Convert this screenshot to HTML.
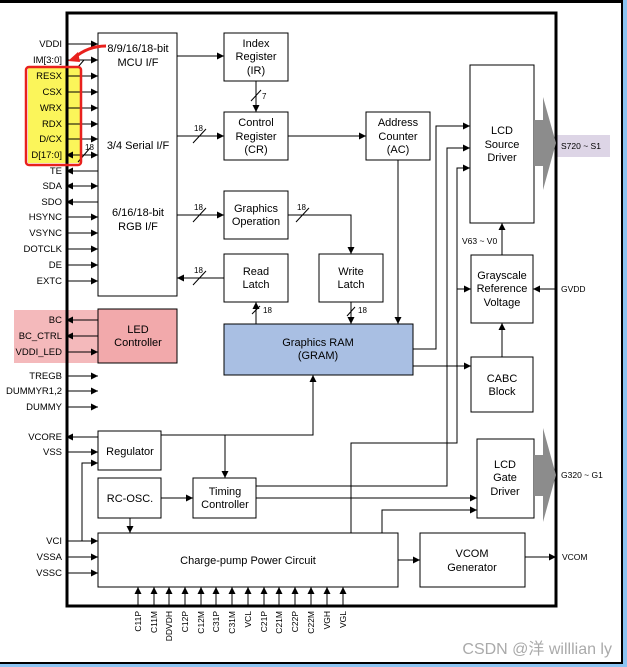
<!DOCTYPE html>
<html><head><meta charset="utf-8"><style>
html,body{margin:0;padding:0;background:#fff;}
svg{display:block;font-family:"Liberation Sans",Arial,sans-serif;}
</style></head><body>
<svg width="627" height="667" viewBox="0 0 627 667" xmlns="http://www.w3.org/2000/svg">
<defs>
<marker id="a" viewBox="0 0 10 10" refX="10" refY="5" markerWidth="7" markerHeight="7" orient="auto" markerUnits="userSpaceOnUse"><path d="M0,0L10,5L0,10z" fill="#000"/></marker>
<marker id="s" viewBox="0 0 10 10" refX="0" refY="5" markerWidth="7" markerHeight="7" orient="auto" markerUnits="userSpaceOnUse"><path d="M10,0L0,5L10,10z" fill="#000"/></marker>
</defs>
<rect x="0" y="0" width="627" height="667" fill="#fff"/>
<rect x="0" y="0" width="627" height="3" fill="#000"/>
<rect x="621" y="0" width="2" height="664" fill="#000"/>
<rect x="623" y="0" width="4" height="667" fill="#8cc4f2"/>
<rect x="0" y="662" width="623" height="2" fill="#000"/>
<rect x="0" y="664" width="627" height="3" fill="#8cc4f2"/>

<!-- highlight backgrounds -->
<rect x="28" y="68" width="52" height="95" fill="#fbf55a"/>
<rect x="14" y="310" width="84" height="53" fill="#f4b9bb"/>
<rect x="556" y="135" width="54" height="22" fill="#ddd5e6"/>

<!-- chip border -->
<rect x="67" y="13" width="489" height="593" fill="none" stroke="#000" stroke-width="3"/>

<g fill="none" stroke="#000" stroke-width="1">
<!-- boxes -->
<rect x="98" y="33" width="79" height="263" fill="#fff"/>
<rect x="224" y="33" width="64" height="48"/>
<rect x="224" y="112" width="64" height="48"/>
<rect x="366" y="112" width="64" height="48"/>
<rect x="224" y="191" width="64" height="48"/>
<rect x="224" y="254" width="64" height="48"/>
<rect x="319" y="254" width="64" height="48"/>
<rect x="224" y="324" width="189" height="51" fill="#a9bfe3"/>
<rect x="470" y="65" width="64" height="158"/>
<rect x="471" y="255" width="62" height="68"/>
<rect x="471" y="357" width="62" height="55"/>
<rect x="477" y="439" width="57" height="79"/>
<rect x="420" y="533" width="105" height="54"/>
<rect x="98" y="533" width="300" height="54"/>
<rect x="98" y="431" width="63" height="39"/>
<rect x="98" y="478" width="63" height="40"/>
<rect x="193" y="478" width="63" height="40"/>
<rect x="98" y="309" width="79" height="54" fill="#f2a9ab"/>
</g>
<!-- big arrows -->
<path d="M534,120 L543,120 L543,97 L556,143 L543,190 L543,166 L534,166 z" fill="#8c8c8c"/>
<path d="M534,455 L543,455 L543,428 L556,475 L543,522 L543,496 L534,496 z" fill="#8c8c8c"/>

<g stroke="#000" stroke-width="1" fill="none">
<!-- left pins to MCU -->
<line x1="66" y1="44" x2="98" y2="44" marker-end="url(#a)"/>
<line x1="66" y1="60" x2="98" y2="60" marker-end="url(#a)"/>
<line x1="66" y1="76" x2="98" y2="76" marker-end="url(#a)"/>
<line x1="66" y1="92" x2="98" y2="92" marker-end="url(#a)"/>
<line x1="66" y1="108" x2="98" y2="108" marker-end="url(#a)"/>
<line x1="66" y1="124" x2="98" y2="124" marker-end="url(#a)"/>
<line x1="66" y1="139" x2="98" y2="139" marker-end="url(#a)"/>
<line x1="66" y1="155" x2="98" y2="155" marker-end="url(#a)" marker-start="url(#s)"/>
<line x1="66" y1="171" x2="98" y2="171" marker-start="url(#s)"/>
<line x1="66" y1="186" x2="98" y2="186" marker-end="url(#a)" marker-start="url(#s)"/>
<line x1="66" y1="202" x2="98" y2="202" marker-start="url(#s)"/>
<line x1="66" y1="217" x2="98" y2="217" marker-end="url(#a)"/>
<line x1="66" y1="233" x2="98" y2="233" marker-end="url(#a)"/>
<line x1="66" y1="249" x2="98" y2="249" marker-end="url(#a)"/>
<line x1="66" y1="265" x2="98" y2="265" marker-end="url(#a)"/>
<line x1="66" y1="281" x2="98" y2="281" marker-end="url(#a)"/>
<line x1="78" y1="162" x2="90" y2="148"/>
<line x1="78" y1="67" x2="84" y2="60"/>
<line x1="66" y1="320" x2="98" y2="320" marker-start="url(#s)"/>
<line x1="66" y1="336" x2="98" y2="336" marker-start="url(#s)"/>
<line x1="66" y1="352" x2="98" y2="352" marker-end="url(#a)"/>
<line x1="66" y1="376" x2="98" y2="376" marker-end="url(#a)"/>
<line x1="66" y1="391" x2="98" y2="391" marker-end="url(#a)"/>
<line x1="66" y1="407" x2="98" y2="407" marker-end="url(#a)"/>
<line x1="66" y1="437" x2="98" y2="437" marker-start="url(#s)"/>
<line x1="66" y1="452" x2="98" y2="452" marker-end="url(#a)"/>
<polyline points="82,541 82,463 98,463" marker-end="url(#a)"/>
<line x1="66" y1="541" x2="98" y2="541" marker-end="url(#a)"/>
<line x1="66" y1="557" x2="98" y2="557" marker-end="url(#a)"/>
<line x1="66" y1="573" x2="98" y2="573" marker-end="url(#a)"/>

<!-- internal -->
<line x1="177" y1="56" x2="224" y2="56" marker-end="url(#a)"/>
<line x1="256" y1="81" x2="256" y2="112" marker-end="url(#a)"/>
<line x1="251" y1="101" x2="261" y2="90"/>
<line x1="177" y1="136" x2="224" y2="136" marker-end="url(#a)"/>
<line x1="193" y1="143" x2="206" y2="129"/>
<line x1="288" y1="136" x2="366" y2="136" marker-end="url(#a)"/>
<line x1="398" y1="160" x2="398" y2="324" marker-end="url(#a)"/>
<line x1="177" y1="215" x2="224" y2="215" marker-end="url(#a)"/>
<line x1="193" y1="222" x2="206" y2="208"/>
<polyline points="288,215 351,215 351,254" marker-end="url(#a)"/>
<line x1="296" y1="222" x2="309" y2="208"/>
<line x1="224" y1="278" x2="177" y2="278" marker-end="url(#a)"/>
<line x1="193" y1="285" x2="206" y2="271"/>
<line x1="256" y1="324" x2="256" y2="302" marker-end="url(#a)"/>
<line x1="252" y1="314" x2="260" y2="306"/>
<line x1="351" y1="302" x2="351" y2="324" marker-end="url(#a)"/>
<line x1="347" y1="316" x2="355" y2="307"/>
<line x1="413" y1="366" x2="471" y2="366" marker-end="url(#a)"/>
<line x1="502" y1="357" x2="502" y2="323" marker-end="url(#a)"/>
<line x1="502" y1="255" x2="502" y2="223" marker-end="url(#a)"/>
<line x1="556" y1="289" x2="533" y2="289" marker-end="url(#a)"/>
<polyline points="413,349 436,349 436,126 470,126" marker-end="url(#a)"/>
<polyline points="256,486 447,486 447,148 470,148" marker-end="url(#a)"/>
<polyline points="351,533 351,443 457,443 457,168 470,168" marker-end="url(#a)"/>
<line x1="457" y1="289" x2="471" y2="289" marker-end="url(#a)"/>
<polyline points="256,498 477,498" marker-end="url(#a)"/>
<polyline points="382,533 382,510 477,510" marker-end="url(#a)"/>
<line x1="398" y1="560" x2="420" y2="560" marker-end="url(#a)"/>
<line x1="525" y1="557" x2="556" y2="557" marker-end="url(#a)"/>
<polyline points="161,435 313,435 313,375" marker-end="url(#a)"/>
<line x1="225" y1="435" x2="225" y2="478" marker-end="url(#a)"/>
<line x1="161" y1="498" x2="193" y2="498" marker-end="url(#a)"/>
<line x1="130" y1="518" x2="130" y2="533" marker-end="url(#a)"/>
<!-- bottom pins -->
<line x1="138" y1="606" x2="138" y2="587" marker-end="url(#a)"/>
<line x1="154" y1="606" x2="154" y2="587" marker-end="url(#a)"/>
<line x1="169" y1="606" x2="169" y2="587" marker-end="url(#a)"/>
<line x1="185" y1="606" x2="185" y2="587" marker-end="url(#a)"/>
<line x1="201" y1="606" x2="201" y2="587" marker-end="url(#a)"/>
<line x1="216" y1="606" x2="216" y2="587" marker-end="url(#a)"/>
<line x1="232" y1="606" x2="232" y2="587" marker-end="url(#a)"/>
<line x1="248" y1="606" x2="248" y2="587" marker-end="url(#a)"/>
<line x1="264" y1="606" x2="264" y2="587" marker-end="url(#a)"/>
<line x1="279" y1="606" x2="279" y2="587" marker-end="url(#a)"/>
<line x1="295" y1="606" x2="295" y2="587" marker-end="url(#a)"/>
<line x1="311" y1="606" x2="311" y2="587" marker-end="url(#a)"/>
<line x1="327" y1="606" x2="327" y2="587" marker-end="url(#a)"/>
<line x1="343" y1="606" x2="343" y2="587" marker-end="url(#a)"/>
</g>

<!-- red highlight -->
<rect x="26" y="67" width="55" height="98" rx="3" fill="none" stroke="#e8211d" stroke-width="2.5"/>
<path d="M106,46 Q88,46 74,58" fill="none" stroke="#e8211d" stroke-width="3"/>
<path d="M68,61 L78,52 L80,62 z" fill="#e8211d"/>

<!-- left labels -->
<g font-size="9.5" text-anchor="end" fill="#000">
<text x="62" y="47">VDDI</text><text x="62" y="63">IM[3:0]</text>
<text x="62" y="79">RESX</text><text x="62" y="95">CSX</text><text x="62" y="111">WRX</text>
<text x="62" y="127">RDX</text><text x="62" y="142">D/CX</text><text x="62" y="158">D[17:0]</text>
<text x="62" y="174">TE</text><text x="62" y="189">SDA</text><text x="62" y="205">SDO</text>
<text x="62" y="220">HSYNC</text><text x="62" y="236">VSYNC</text><text x="62" y="252">DOTCLK</text>
<text x="62" y="268">DE</text><text x="62" y="284">EXTC</text>
<text x="62" y="323">BC</text><text x="62" y="339">BC_CTRL</text><text x="62" y="355">VDDI_LED</text>
<text x="62" y="379">TREGB</text><text x="62" y="394">DUMMYR1,2</text><text x="62" y="410">DUMMY</text>
<text x="62" y="440">VCORE</text><text x="62" y="455">VSS</text>
<text x="62" y="544">VCI</text><text x="62" y="560">VSSA</text><text x="62" y="576">VSSC</text>
</g>
<g font-size="8" fill="#000">
<text x="85" y="150">18</text>
<text x="262" y="99">7</text>
<text x="194" y="131">18</text><text x="194" y="210">18</text><text x="297" y="210">18</text><text x="194" y="273">18</text>
<text x="263" y="313">18</text><text x="358" y="313">18</text>
</g>
<!-- box text -->
<g font-size="11" text-anchor="middle" fill="#000">
<text x="138" y="52">8/9/16/18-bit</text><text x="138" y="66">MCU I/F</text>
<text x="138" y="149">3/4 Serial I/F</text>
<text x="138" y="216">6/16/18-bit</text><text x="138" y="230">RGB I/F</text>
<text x="256" y="47">Index</text><text x="256" y="60">Register</text><text x="256" y="74">(IR)</text>
<text x="256" y="126">Control</text><text x="256" y="140">Register</text><text x="256" y="153">(CR)</text>
<text x="398" y="126">Address</text><text x="398" y="140">Counter</text><text x="398" y="153">(AC)</text>
<text x="256" y="212">Graphics</text><text x="256" y="225">Operation</text>
<text x="256" y="275">Read</text><text x="256" y="288">Latch</text>
<text x="351" y="275">Write</text><text x="351" y="288">Latch</text>
<text x="318" y="346">Graphics RAM</text><text x="318" y="359">(GRAM)</text>
<text x="502" y="134">LCD</text><text x="502" y="148">Source</text><text x="502" y="161">Driver</text>
<text x="502" y="279">Grayscale</text><text x="502" y="292">Reference</text><text x="502" y="306">Voltage</text>
<text x="502" y="382">CABC</text><text x="502" y="395">Block</text>
<text x="505" y="468">LCD</text><text x="505" y="481">Gate</text><text x="505" y="495">Driver</text>
<text x="472" y="557">VCOM</text><text x="472" y="571">Generator</text>
<text x="248" y="564">Charge-pump Power Circuit</text>
<text x="130" y="455">Regulator</text>
<text x="130" y="502">RC-OSC.</text>
<text x="225" y="495">Timing</text><text x="225" y="508">Controller</text>
<text x="138" y="333">LED</text><text x="138" y="346">Controller</text>
</g>
<g font-size="8.5" fill="#000">
<text x="561" y="149">S720 ~ S1</text>
<text x="561" y="478">G320 ~ G1</text>
<text x="561" y="292">GVDD</text>
<text x="562" y="560">VCOM</text>
<text x="462" y="244">V63 ~ V0</text>
</g>
<g font-size="8.5" text-anchor="end" fill="#000">
<text transform="translate(141,611) rotate(-90)">C11P</text>
<text transform="translate(157,611) rotate(-90)">C11M</text>
<text transform="translate(172,611) rotate(-90)">DDVDH</text>
<text transform="translate(188,611) rotate(-90)">C12P</text>
<text transform="translate(204,611) rotate(-90)">C12M</text>
<text transform="translate(219,611) rotate(-90)">C31P</text>
<text transform="translate(235,611) rotate(-90)">C31M</text>
<text transform="translate(251,611) rotate(-90)">VCL</text>
<text transform="translate(267,611) rotate(-90)">C21P</text>
<text transform="translate(282,611) rotate(-90)">C21M</text>
<text transform="translate(298,611) rotate(-90)">C22P</text>
<text transform="translate(314,611) rotate(-90)">C22M</text>
<text transform="translate(330,611) rotate(-90)">VGH</text>
<text transform="translate(346,611) rotate(-90)">VGL</text>
</g>
<text x="612" y="654" font-size="16" text-anchor="end" fill="#aaa" font-family="Liberation Sans, Noto Sans CJK SC, sans-serif">CSDN @洋 willlian ly</text>
</svg>
</body></html>
